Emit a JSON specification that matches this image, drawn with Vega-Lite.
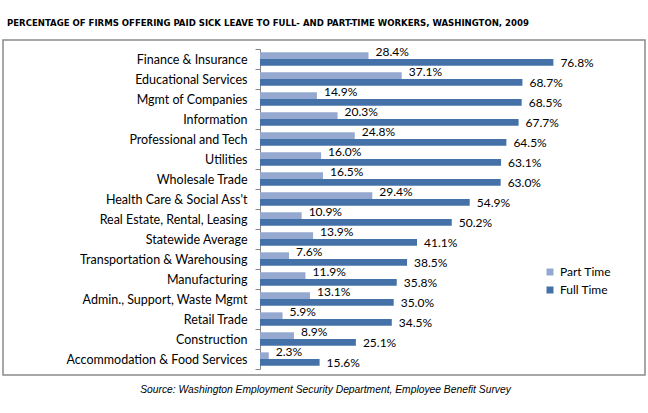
{
  "$schema": "https://vega.github.io/schema/vega-lite/v6.json",
  "width": 642,
  "height": 335,
  "autosize": "none",
  "padding": {"left": 3, "top": 40, "right": 3, "bottom": 38},
  "background": "white",
  "config": {"view": {"stroke": "#8a8a8a", "strokeWidth": 1.5}, "font": "Lato"},
  "title": {
    "text": "PERCENTAGE OF FIRMS OFFERING PAID SICK LEAVE TO FULL- AND PART-TIME WORKERS, WASHINGTON, 2009",
    "anchor": "start",
    "frame": "group",
    "offset": -1,
    "dx": 4,
    "font": "DejaVu Sans Condensed",
    "fontSize": 9.5,
    "fontWeight": "bold",
    "color": "black",
    "baseline": "alphabetic"
  },
  "data": {
    "values": [
      {"industry": "Finance & Insurance", "type": "Part Time", "value": 0.284},
      {"industry": "Finance & Insurance", "type": "Full Time", "value": 0.768},
      {"industry": "Educational Services", "type": "Part Time", "value": 0.371},
      {"industry": "Educational Services", "type": "Full Time", "value": 0.687},
      {"industry": "Mgmt of Companies", "type": "Part Time", "value": 0.149},
      {"industry": "Mgmt of Companies", "type": "Full Time", "value": 0.685},
      {"industry": "Information", "type": "Part Time", "value": 0.203},
      {"industry": "Information", "type": "Full Time", "value": 0.677},
      {"industry": "Professional and Tech", "type": "Part Time", "value": 0.248},
      {"industry": "Professional and Tech", "type": "Full Time", "value": 0.645},
      {"industry": "Utilities", "type": "Part Time", "value": 0.160},
      {"industry": "Utilities", "type": "Full Time", "value": 0.631},
      {"industry": "Wholesale Trade", "type": "Part Time", "value": 0.165},
      {"industry": "Wholesale Trade", "type": "Full Time", "value": 0.630},
      {"industry": "Health Care & Social Ass't", "type": "Part Time", "value": 0.294},
      {"industry": "Health Care & Social Ass't", "type": "Full Time", "value": 0.549},
      {"industry": "Real Estate, Rental, Leasing", "type": "Part Time", "value": 0.109},
      {"industry": "Real Estate, Rental, Leasing", "type": "Full Time", "value": 0.502},
      {"industry": "Statewide Average", "type": "Part Time", "value": 0.139},
      {"industry": "Statewide Average", "type": "Full Time", "value": 0.411},
      {"industry": "Transportation & Warehousing", "type": "Part Time", "value": 0.076},
      {"industry": "Transportation & Warehousing", "type": "Full Time", "value": 0.385},
      {"industry": "Manufacturing", "type": "Part Time", "value": 0.119},
      {"industry": "Manufacturing", "type": "Full Time", "value": 0.358},
      {"industry": "Admin., Support, Waste Mgmt", "type": "Part Time", "value": 0.131},
      {"industry": "Admin., Support, Waste Mgmt", "type": "Full Time", "value": 0.350},
      {"industry": "Retail Trade", "type": "Part Time", "value": 0.059},
      {"industry": "Retail Trade", "type": "Full Time", "value": 0.345},
      {"industry": "Construction", "type": "Part Time", "value": 0.089},
      {"industry": "Construction", "type": "Full Time", "value": 0.251},
      {"industry": "Accommodation & Food Services", "type": "Part Time", "value": 0.023},
      {"industry": "Accommodation & Food Services", "type": "Full Time", "value": 0.156}
    ]
  },
  "encoding": {
    "y": {
      "field": "industry",
      "type": "nominal",
      "sort": null,
      "scale": {"range": [9, 329], "paddingInner": 0, "paddingOuter": 0},
      "axis": {
        "title": null,
        "offset": -257,
        "domainColor": "#868686",
        "tickColor": "#868686",
        "tickSize": 5,
        "tickBand": "extent",
        "labelPadding": 8,
        "labelColor": "black",
        "labelFont": "Lato",
        "labelFontSize": 12.5,
        "labelLimit": 300
      }
    },
    "yOffset": {
      "field": "type",
      "type": "nominal",
      "scale": {"domain": ["Part Time", "Full Time"], "paddingInner": 0, "paddingOuter": 0.5}
    },
    "x": {
      "field": "value",
      "type": "quantitative",
      "scale": {"domain": [0, 1], "range": [257, 639]},
      "axis": {
        "domain": false,
        "ticks": false,
        "labels": false,
        "grid": false,
        "title": "Source: Washington Employment Security Department, Employee Benefit Survey",
        "titleFont": "Liberation Sans",
        "titleFontStyle": "italic",
        "titleFontWeight": "normal",
        "titleFontSize": 10.3,
        "titleColor": "black",
        "titleX": 322,
        "titleY": 17,
        "titleAlign": "center",
        "titleBaseline": "alphabetic"
      }
    }
  },
  "layer": [
    {
      "mark": {"type": "bar"},
      "encoding": {
        "color": {
          "field": "type",
          "type": "nominal",
          "scale": {"domain": ["Part Time", "Full Time"], "range": ["#94A8D0", "#4471A8"]},
          "legend": {
            "orient": "none",
            "legendX": 541,
            "legendY": 226,
            "title": null,
            "symbolType": "square",
            "symbolSize": 49,
            "symbolStrokeWidth": 0,
            "labelFont": "Lato",
            "labelFontSize": 12,
            "labelColor": "black",
            "rowPadding": 6
          }
        }
      }
    },
    {
      "transform": [{"filter": "datum.type == 'Part Time'"}],
      "mark": {"type": "text", "align": "left", "baseline": "middle", "dx": 7, "dy": -4, "font": "Lato", "fontSize": 12, "color": "black"},
      "encoding": {"text": {"field": "value", "type": "quantitative", "format": ".1%"}}
    },
    {
      "transform": [{"filter": "datum.type == 'Full Time'"}],
      "mark": {"type": "text", "align": "left", "baseline": "middle", "dx": 7, "dy": 1, "font": "Lato", "fontSize": 12, "color": "black"},
      "encoding": {"text": {"field": "value", "type": "quantitative", "format": ".1%"}}
    }
  ]
}
